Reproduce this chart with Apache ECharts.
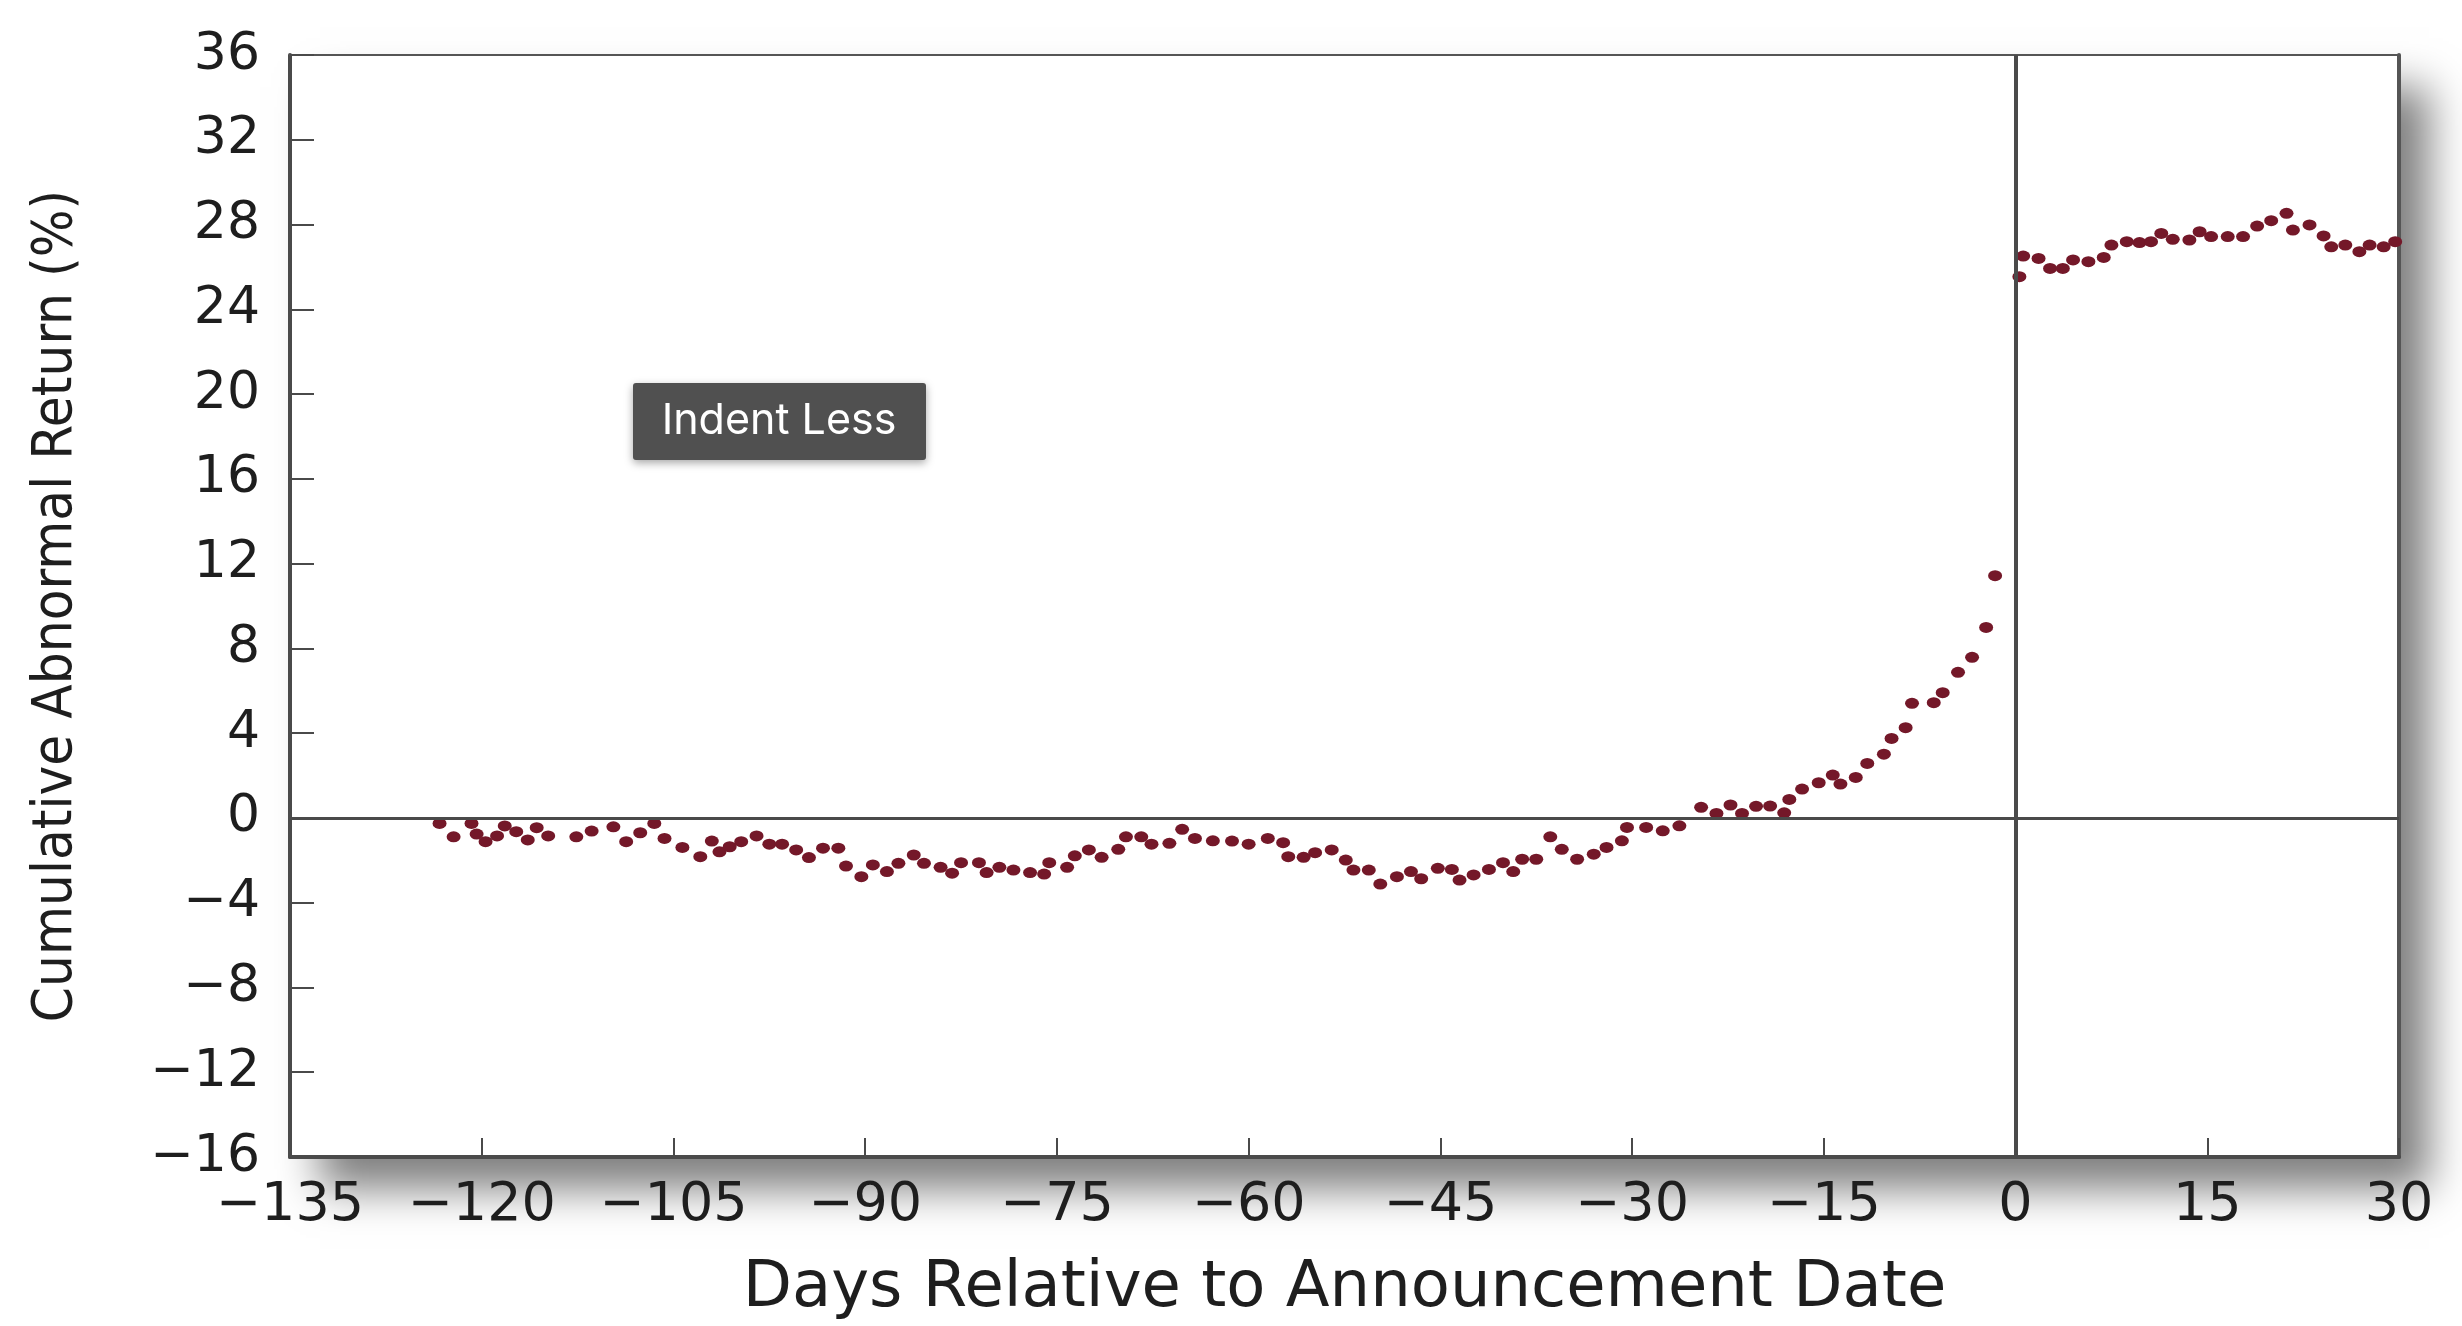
<!DOCTYPE html>
<html><head><meta charset="utf-8">
<script src="https://cdn.jsdelivr.net/npm/echarts@6/dist/echarts.min.js"></script>
<style>html,body{margin:0;padding:0;background:#fff}#c{width:2462px;height:1326px}</style>
</head><body><div id="c"></div>
<script>
// Days relative to announcement and cumulative abnormal return (%)
const preDays = [-123.3,-122.2,-120.8,-120.4,-119.7,-118.8,-118.2,-117.3,-116.4,-115.7,-114.8,-112.6,-111.4,-109.7,-108.7,-107.6,-106.5,-105.7,-104.3,-102.9,-102.0,-101.4,-100.6,-99.7,-98.5,-97.5,-96.5,-95.4,-94.4,-93.3,-92.1,-91.5,-90.3,-89.4,-88.3,-87.4,-86.2,-85.4,-84.1,-83.2,-82.5,-81.1,-80.5,-79.5,-78.4,-77.1,-76.0,-75.6,-74.2,-73.6,-72.5,-71.5,-70.2,-69.6,-68.4,-67.6,-66.2,-65.2,-64.2,-62.8,-61.3,-60.0,-58.5,-57.3,-56.9,-55.7,-54.8,-53.5,-52.4,-51.8,-50.6,-49.7,-48.4,-47.3,-46.5,-45.2,-44.1,-43.5,-42.4,-41.2,-40.1,-39.3,-38.6,-37.5,-36.4,-35.5,-34.3,-33.0,-32.0,-30.8,-30.4,-28.9,-27.6,-26.3,-24.6,-23.4,-22.3,-21.4,-20.3,-19.2,-18.1,-17.7,-16.7,-15.4,-14.3,-13.7,-12.5,-11.6,-10.3,-9.7,-8.6,-8.1,-6.4,-5.7,-4.5,-3.4,-2.3,-1.6];
const preCAR = [-0.26,-0.89,-0.26,-0.76,-1.12,-0.85,-0.38,-0.65,-1.04,-0.46,-0.85,-0.89,-0.62,-0.42,-1.12,-0.70,-0.26,-0.97,-1.39,-1.83,-1.09,-1.60,-1.36,-1.12,-0.85,-1.24,-1.24,-1.51,-1.87,-1.43,-1.43,-2.27,-2.77,-2.22,-2.53,-2.14,-1.75,-2.14,-2.33,-2.61,-2.11,-2.11,-2.58,-2.33,-2.46,-2.58,-2.65,-2.11,-2.33,-1.79,-1.51,-1.86,-1.48,-0.89,-0.89,-1.24,-1.20,-0.54,-0.97,-1.08,-1.09,-1.24,-0.97,-1.17,-1.83,-1.86,-1.64,-1.51,-1.99,-2.46,-2.46,-3.12,-2.77,-2.53,-2.87,-2.38,-2.43,-2.93,-2.69,-2.43,-2.11,-2.53,-1.95,-1.95,-0.89,-1.48,-1.95,-1.71,-1.39,-1.08,-0.45,-0.45,-0.61,-0.37,0.50,0.21,0.61,0.21,0.55,0.56,0.24,0.87,1.36,1.66,2.02,1.60,1.91,2.57,3.01,3.75,4.26,5.41,5.44,5.91,6.87,7.58,8.99,11.43];
const postDays = [0.3,0.6,1.8,2.7,3.7,4.5,5.7,6.9,7.5,8.7,9.7,10.6,11.4,12.3,13.6,14.4,15.3,16.6,17.8,18.9,20.0,21.2,21.7,23.0,24.1,24.7,25.8,26.9,27.7,28.8,29.7];
const postCAR = [25.54,26.51,26.40,25.93,25.93,26.33,26.25,26.45,27.03,27.19,27.15,27.19,27.58,27.30,27.27,27.66,27.43,27.43,27.43,27.93,28.18,28.53,27.74,27.98,27.46,26.95,27.03,26.72,27.03,26.95,27.19];

const xTitle = 'Days Relative to Announcement Date';
const yTitle = 'Cumulative Abnormal Return (%)';
const popupText = 'Indent Less';

const points = preDays.map((d, i) => [d, preCAR[i]]).concat(postDays.map((d, i) => [d, postCAR[i]]));
const minus = v => String(v).replace('-', '\u2212');
const axisColor = '#4a4a4a';
const X = { min: -135, max: 30, interval: 15 };
const Y = { min: -16, max: 36, interval: 4 };
const borderAxis = (w) => ({
  axisLine: { show: true, onZero: false, lineStyle: { color: '#555', width: w } },
  axisTick: { show: false }, axisLabel: { show: false }, splitLine: { show: false }
});

const chart = echarts.init(document.getElementById('c'));
chart.setOption({
  animation: false,
  backgroundColor: '#fff',
  grid: {
    left: 290, right: 63, top: 55, bottom: 169,
    show: true, backgroundColor: '#fff', borderWidth: 0,
    shadowColor: 'rgba(0,0,0,0.5)', shadowBlur: 40, shadowOffsetX: 30, shadowOffsetY: 32
  },
  xAxis: [{
    type: 'value', position: 'bottom', ...X,
    name: xTitle, nameLocation: 'middle', nameGap: 100,
    nameTextStyle: { fontFamily: 'DejaVu Sans', fontSize: 64, color: '#1e1e1e' },
    axisLine: { show: true, onZero: false, lineStyle: { color: axisColor, width: 4 } },
    axisTick: { show: true, inside: true, length: 19, lineStyle: { color: axisColor, width: 2 } },
    axisLabel: { formatter: minus, fontFamily: 'DejaVu Sans', fontSize: 54, color: '#1e1e1e', margin: 22, showMinLabel: true, showMaxLabel: true },
    splitLine: { show: false }
  }, { type: 'value', position: 'top', ...X, ...borderAxis(2) }],
  yAxis: [{
    type: 'value', position: 'left', ...Y,
    name: yTitle, nameLocation: 'middle', nameGap: 206,
    nameTextStyle: { fontFamily: "'Liberation Sans Narrow', 'DejaVu Sans Condensed', sans-serif", fontSize: 56, color: '#1e1e1e' },
    axisLine: { show: true, onZero: false, lineStyle: { color: axisColor, width: 4 } },
    axisTick: { show: true, inside: true, length: 24, lineStyle: { color: axisColor, width: 2 } },
    axisLabel: { formatter: minus, fontFamily: 'DejaVu Sans', fontSize: 52, color: '#1e1e1e', margin: 30, showMinLabel: true, showMaxLabel: true },
    splitLine: { show: false }
  }, { type: 'value', position: 'right', ...Y, ...borderAxis(4) }],
  series: [{
    type: 'scatter',
    xAxisIndex: 0, yAxisIndex: 0,
    data: points,
    symbol: 'circle',
    symbolSize: [14, 11],
    itemStyle: { color: '#741829', opacity: 1 },
    silent: true,
    markLine: {
      silent: true, symbol: ['none', 'none'], label: { show: false },
      data: [
        { yAxis: 0, lineStyle: { color: axisColor, width: 3, type: 'solid' } },
        { xAxis: 0, lineStyle: { color: axisColor, width: 4, type: 'solid' } }
      ]
    }
  }],
  graphic: [{
    type: 'group', left: 633, top: 383,
    children: [
      { type: 'rect', shape: { x: 0, y: 0, width: 293, height: 77, r: 3 },
        style: { fill: '#505050', shadowColor: 'rgba(0,0,0,0.35)', shadowBlur: 8, shadowOffsetY: 3 } },
      { type: 'text', x: 146, y: 38,
        style: { text: popupText, fill: '#ffffff', font: '43px Inter, "Open Sans", sans-serif', align: 'center', verticalAlign: 'middle' } }
    ]
  }]
});
</script></body></html>
